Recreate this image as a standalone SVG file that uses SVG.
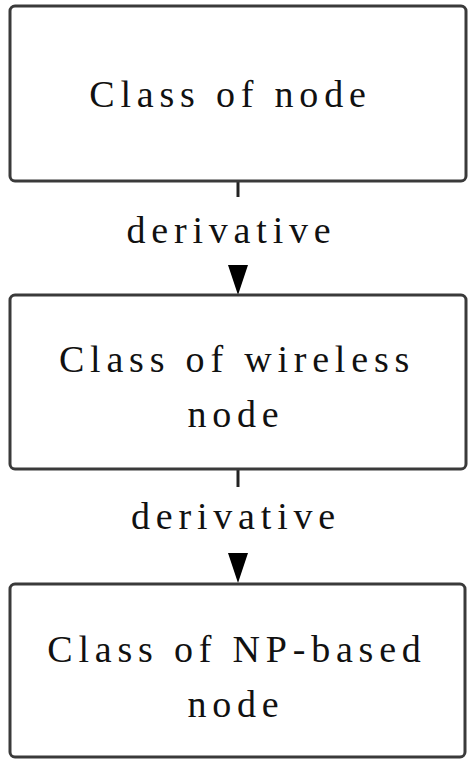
<svg xmlns="http://www.w3.org/2000/svg" width="474" height="763" viewBox="0 0 474 763">
<defs>
<style>
.box{fill:#fff;stroke:#3a3a3a;stroke-width:3}
.t{font-family:"Liberation Serif","Times New Roman",serif;font-size:38px;letter-spacing:5.8px;fill:#111;text-anchor:middle}
.ln{stroke:#222;stroke-width:3;fill:none}
</style>
<marker id="ah" markerWidth="8" markerHeight="10" refX="8" refY="5" orient="auto" markerUnits="userSpaceOnUse" viewBox="0 0 8 10">
<path d="M0,0 L8,5 L0,10 z" fill="#000"/>
</marker>
</defs>
<g id="connectors">
<line class="ln" x1="238" y1="181" x2="238" y2="197"/>
<path d="M228,265 L248,265 L238,295 z" fill="#000"/>
<text class="t" x="231.5" y="243">derivative</text>
<line class="ln" x1="238" y1="469" x2="238" y2="487"/>
<path d="M228,553 L248,553 L238,583 z" fill="#000"/>
<text class="t" x="236" y="529">derivative</text>
</g>
<g id="node1">
<rect class="box" x="10" y="6" width="456" height="175" rx="5"/>
<text class="t" x="230.5" y="107">Class of node</text>
</g>
<g id="node2">
<rect class="box" x="10" y="295" width="456" height="174" rx="5"/>
<text class="t" x="237" y="372">Class of wireless</text>
<text class="t" x="236" y="427">node</text>
</g>
<g id="node3">
<rect class="box" x="10" y="584" width="455" height="173" rx="5"/>
<text class="t" x="237" y="662">Class of NP-based</text>
<text class="t" x="236" y="717">node</text>
</g>
</svg>
